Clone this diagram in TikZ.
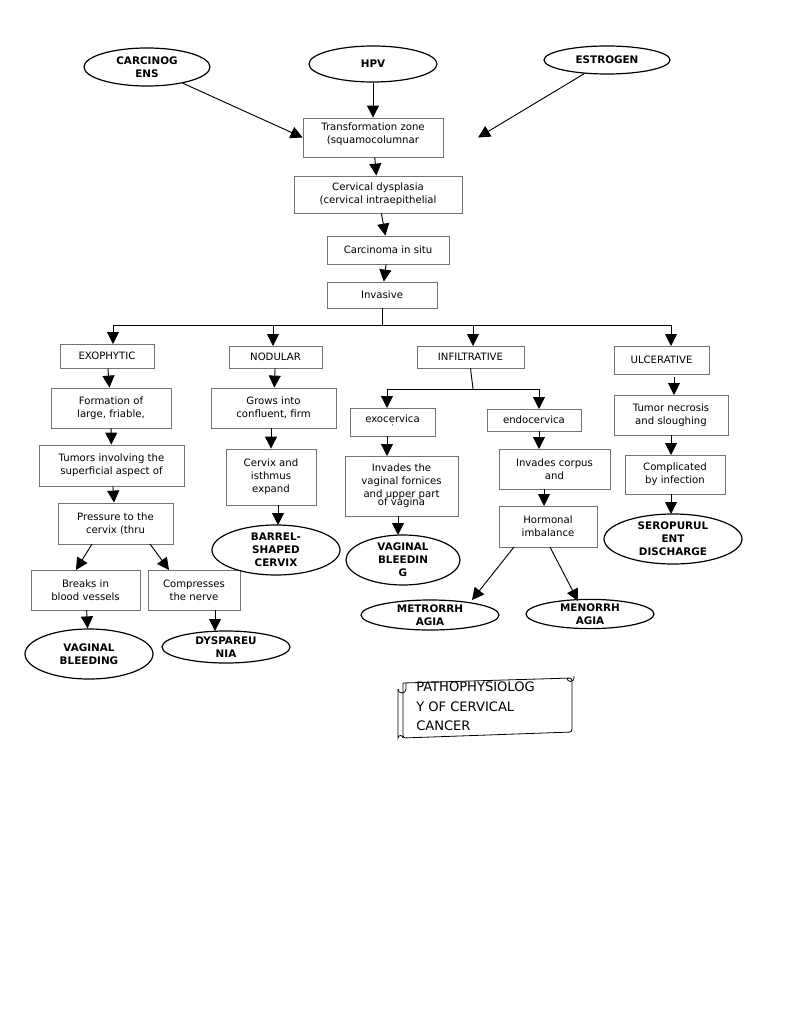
\documentclass[tikz,border=0pt]{standalone}
\usepackage{fontspec}
\setmainfont{DejaVu Sans}
\usetikzlibrary{arrows.meta,shapes.geometric}
\begin{document}
\begin{tikzpicture}[x=0.75pt,y=-0.75pt,
  bx/.style={draw=black!55,line width=0.6pt,align=center,inner sep=0pt,font=\fontsize{7.6}{9.6}\selectfont},
  el/.style={draw=black,line width=0.9pt,ellipse,align=center,inner sep=0pt,font=\fontsize{7.8}{9.6}\selectfont\bfseries},
  ar/.style={line width=0.7pt,-{Triangle[length=9pt,width=9pt]}},
  ln/.style={line width=0.7pt}]
\useasboundingbox (0,0) rectangle (791,1023);
\newcommand\pbox[6]{\node[bx,minimum width={(#4-#2)*0.75pt},minimum height={(#5-#3)*0.75pt}] (#1) at ({(#2+#4)/2},{(#3+#5)/2}) {#6};}
\newcommand\pell[6]{\node[el,minimum width={#4*0.75pt},minimum height={#5*0.75pt}] (#1) at (#2,#3) {#6};}
\pell{carc}{147}{67}{126}{38}{CARCINOG\\ENS}
\pell{hpv}{373}{64}{128}{36}{HPV}
\pell{estr}{607}{60}{126}{28}{ESTROGEN}
\pbox{tz}{303}{118}{443}{157}{Transformation zone\\(squamocolumnar\\[-3pt]\phantom{x}}
\pbox{cd}{294}{176}{462}{213}{Cervical dysplasia\\(cervical intraepithelial}
\pbox{cis}{327}{236}{449}{264}{Carcinoma in situ}
\pbox{inv}{327}{282}{437}{308}{Invasive}
\draw[ar] (carc) -- (tz.west);
\draw[ar] (hpv) -- (tz.north);
\draw[ar] (estr) -- ([xshift=26]tz.east);
\draw[ar] (tz) -- (cd);
\draw[ar] (cd) -- (cis);
\draw[ar] (cis) -- (inv);
\pbox{exo}{60}{344}{154}{368}{EXOPHYTIC}
\pbox{nod}{229}{346}{322}{368}{NODULAR}
\pbox{inf}{417}{346}{524}{368}{INFILTRATIVE}
\pbox{ulc}{614}{346}{709}{374}{ULCERATIVE}
\coordinate (hb) at (373,325);
\draw[ln] (inv.south) -- (inv.south |- hb);
\draw[ln] (113,325) -- (671,325);
\draw[ar] (113,325) -- (113,344);
\draw[ar] (273,325) -- (273,346);
\draw[ar] (473,325) -- (473,346);
\draw[ar] (671,325) -- (671,346);
% exophytic
\pbox{form}{51}{388}{171}{428}{Formation of\\large, friable,}
\pbox{tum}{39}{445}{184}{486}{Tumors involving the\\superficial aspect of}
\pbox{pres}{58}{503}{173}{544}{Pressure to the\\cervix (thru}
\pbox{brk}{31}{570}{140}{610}{Breaks in\\blood vessels}
\pbox{cmp}{148}{570}{240}{610}{Compresses\\the nerve}
\pell{vb1}{89}{654}{128}{50}{VAGINAL\\BLEEDING}
\pell{dys}{226}{647}{128}{32}{DYSPAREU\\NIA}
\draw[ar] (exo) -- (form);
\draw[ar] (form) -- (tum);
\draw[ar] (tum) -- (pres);
\draw[ar] (92,544) -- (76,570);
\draw[ar] (150,544) -- (169,570);
\draw[ar] (brk) -- (vb1);
\draw[ar] (215,610) -- (215,631);
% nodular
\pbox{grow}{211}{388}{336}{428}{Grows into\\confluent, firm}
\pbox{cvx}{226}{449}{316}{505}{Cervix and\\isthmus\\expand}
\pell{bar}{276}{550}{128}{50}{BARREL-\\SHAPED\\CERVIX}
\draw[ar] (nod) -- (grow);
\draw[ar] (grow.south -| cvx) -- (cvx);
\draw[ar] (278,505) -- (278,525);
% infiltrative
\pbox{exc}{350}{408}{435}{436}{exocervica\\[-4pt]{\tiny'}}
\pbox{enc}{487}{409}{581}{431}{endocervica}
\draw[ln] (inf.south) -- (473,389);
\draw[ln] (387,389) -- (539,389);
\draw[ar] (387,389) -- (387,408);
\draw[ar] (539,389) -- (539,409);
\pbox{invv}{345}{456}{458}{516}{Invades the\\vaginal fornices\\and upper part\\[-3pt]of vagina}
\pell{vb2}{403}{560}{114}{50}{VAGINAL\\BLEEDIN\\G}
\draw[ar] (387,436) -- (387,456);
\draw[ar] (398,516) -- (398,535);
\pbox{invc}{499}{449}{610}{489}{Invades corpus\\and}
\pbox{hor}{499}{506}{597}{547}{Hormonal\\imbalance}
\pell{met}{430}{615}{138}{30}{METRORRH\\AGIA}
\pell{men}{590}{614}{128}{28}{MENORRH\\AGIA}
\draw[ar] (539,431) -- (539,449);
\draw[ar] (544,489) -- (544,506);
\draw[ar] (514,547) -- (472,600);
\draw[ar] (550,547) -- (578,601);
% ulcerative
\pbox{nec}{614}{395}{728}{435}{Tumor necrosis\\and sloughing}
\pbox{cmpl}{625}{455}{725}{494}{Complicated\\by infection}
\pell{ser}{673}{539}{138}{50}{SEROPURUL\\ENT\\DISCHARGE}
\draw[ar] (674,377) -- (674,395);
\draw[ar] (nec.south -| 671,0) -- (671,455);
\draw[ar] (671,494) -- (671,514);
% scroll
\draw[line width=0.6pt,rounded corners=2pt] (403,683) -- (403,738) -- (572,732) -- (572,678) -- (403,683);
\draw[line width=0.6pt] (398,689) -- (398,738) arc(180:360:2.5);
\draw[line width=0.6pt] (398,689) arc(180:0:4) -- (406,683);
\draw[line width=0.6pt] (567,678) arc(180:0:3.5) -- (574,676) ;
\node[anchor=north west,align=left,inner sep=0pt,font=\fontsize{9.8}{14.3}\selectfont] (title) at (416,682) {PATHOPHYSIOLOG\\Y OF CERVICAL\\CANCER};
\end{tikzpicture}
\end{document}
